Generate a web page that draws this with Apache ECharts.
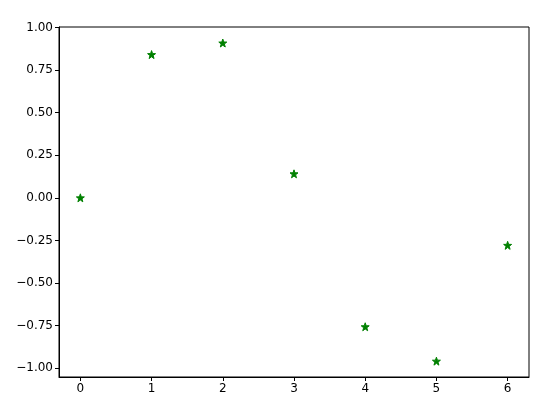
<!DOCTYPE html>
<html><head><meta charset="utf-8">
<script src="https://cdn.jsdelivr.net/npm/echarts@6/dist/echarts.min.js"></script>
<style>html,body{margin:0;padding:0;background:#fff}#c{width:552px;height:416px}</style>
</head><body><div id="c"></div>
<script>
const xValues = [0, 1, 2, 3, 4, 5, 6];
const yValues = [0.0, 0.841, 0.909, 0.141, -0.757, -0.959, -0.279];
const xTicks = [0, 1, 2, 3, 4, 5, 6];
const yTicks = [-1.0, -0.75, -0.5, -0.25, 0.0, 0.25, 0.5, 0.75, 1.0];

const star = 'path://M0,-10 L2.35,-3.24 L9.51,-3.09 L3.8,1.24 L5.88,8.09 L0,4 L-5.88,8.09 L-3.8,1.24 L-9.51,-3.09 L-2.35,-3.24 Z';
const chart = echarts.init(document.getElementById('c'));
const axisCommon = {
  axisLine: {show: true, onZero: false, lineStyle: {color: '#000', width: 1}},
  axisTick: {show: true, length: 4, lineStyle: {color: '#000', width: 1}},
  splitLine: {show: false},
  axisLabel: {color: '#000', fontFamily: 'DejaVu Sans', fontSize: 12, margin: 6}
};
chart.setOption({
  animation: false,
  grid: {left: 59, right: 23, top: 27, bottom: 39, containLabel: false, show: true, borderColor: '#000', borderWidth: 1},
  xAxis: Object.assign({}, axisCommon, {
    type: 'value', min: -0.3, max: 6.3,
    axisTick: Object.assign({}, axisCommon.axisTick, {customValues: xTicks}),
    axisLabel: Object.assign({}, axisCommon.axisLabel, {customValues: xTicks, formatter: v => String(v)})
  }),
  yAxis: Object.assign({}, axisCommon, {
    type: 'value', min: -1.052, max: 1.003,
    axisTick: Object.assign({}, axisCommon.axisTick, {customValues: yTicks}),
    axisLabel: Object.assign({}, axisCommon.axisLabel, {customValues: yTicks,
      formatter: v => (v < 0 ? '\u2212' : '') + Math.abs(v).toFixed(2)})
  }),
  series: [{
    type: 'scatter',
    data: xValues.map((x, i) => [x, yValues[i]]),
    symbol: star, symbolSize: 8,
    itemStyle: {color: '#008000', borderColor: '#008000', borderWidth: 1, opacity: 1}
  }]
});
</script></body></html>
